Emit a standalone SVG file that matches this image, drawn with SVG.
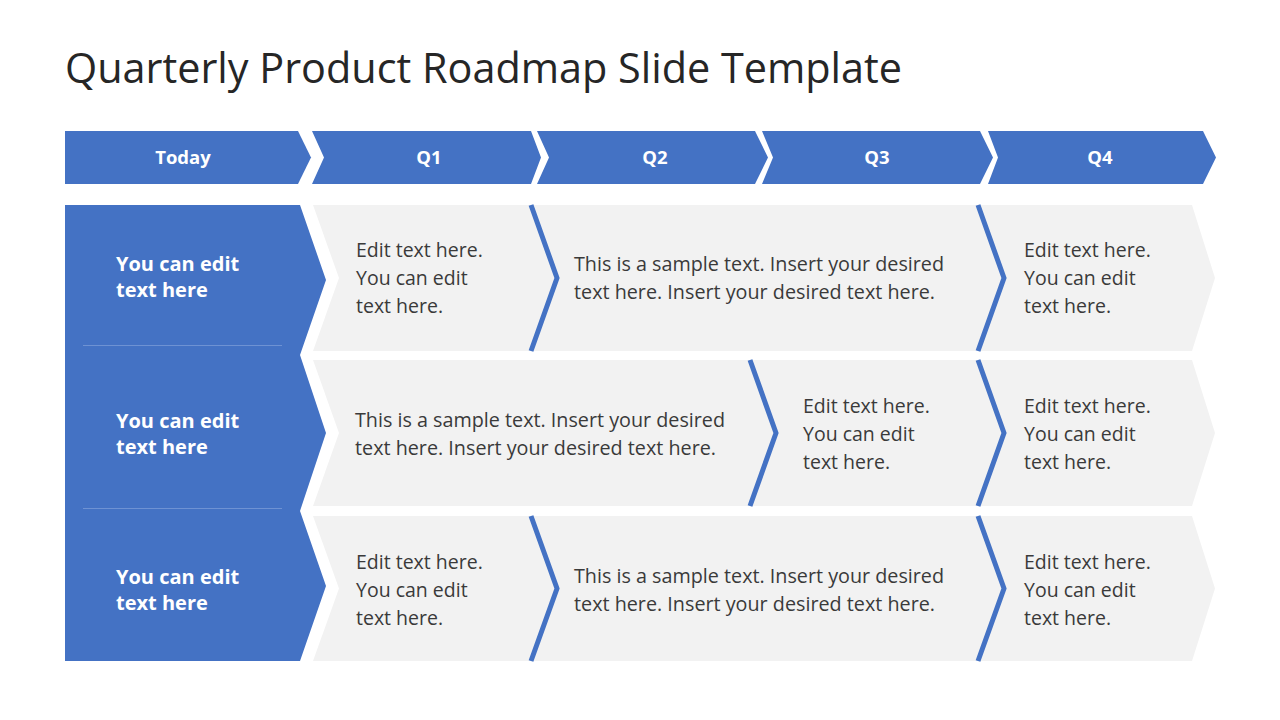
<svg xmlns="http://www.w3.org/2000/svg" width="1280" height="720" viewBox="0 0 1280 720">
<style>
  .blue{fill:#4472C4}
  .gray{fill:#F2F2F2}
  .div{fill:none;stroke:#4472C4;stroke-width:5;stroke-linejoin:miter}
  .sep{stroke:#6E92D3;stroke-width:1}
  .title{font-family:"Open Sans","Noto Sans","Liberation Sans",sans-serif;font-size:42px;fill:#262626}
  .hdr{font-family:"Open Sans","Noto Sans","Liberation Sans",sans-serif;font-size:18.5px;font-weight:bold;fill:#FFFFFF;text-anchor:middle}
  .rowh{font-family:"Open Sans","Noto Sans","Liberation Sans",sans-serif;font-size:20px;font-weight:bold;fill:#FFFFFF}
  .body{font-family:"Open Sans","Noto Sans","Liberation Sans",sans-serif;font-size:19.5px;fill:#3A3A3A}
</style>
<rect width="1280" height="720" fill="#FFFFFF"/>
<text class="title" x="65" y="83" textLength="837" lengthAdjust="spacingAndGlyphs">Quarterly Product Roadmap Slide Template</text>

<g id="header-today">
  <polygon class="blue" points="65,131 298,131 311,157.5 298,184 65,184"/>
  <text class="hdr" x="183" y="164">Today</text>
</g>
<g id="header-q1">
  <polygon class="blue" points="312,131 531,131 541,157.5 531,184 312,184 324,157.5"/>
  <text class="hdr" x="429" y="164">Q1</text>
</g>
<g id="header-q2">
  <polygon class="blue" points="537,131 755,131 768,157.5 755,184 537,184 549,157.5"/>
  <text class="hdr" x="655" y="164">Q2</text>
</g>
<g id="header-q3">
  <polygon class="blue" points="762,131 980,131 993,157.5 980,184 762,184 773,157.5"/>
  <text class="hdr" x="877" y="164">Q3</text>
</g>
<g id="header-q4">
  <polygon class="blue" points="988,131 1203,131 1216,157.5 1203,184 988,184 998,157.5"/>
  <text class="hdr" x="1100" y="164">Q4</text>
</g>

<g id="row-headers">
  <polygon class="blue" points="65,205 300,205 326,280 300,355 326,433 300,511 326,586 300,661 65,661"/>
  <line class="sep" x1="83" y1="345.5" x2="282" y2="345.5"/>
  <line class="sep" x1="83" y1="508.5" x2="282" y2="508.5"/>
</g>
<g id="row1-header">
  <text class="rowh" x="116" y="271">You can edit</text>
  <text class="rowh" x="116" y="297">text here</text>
</g>
<g id="row2-header">
  <text class="rowh" x="116" y="428">You can edit</text>
  <text class="rowh" x="116" y="454">text here</text>
</g>
<g id="row3-header">
  <text class="rowh" x="116" y="584">You can edit</text>
  <text class="rowh" x="116" y="610">text here</text>
</g>

<g id="row1">
  <polygon class="gray" points="313,205 1192,205 1215,278 1192,351 313,351 339,278"/>
  <text class="body" x="356" y="257">Edit text here.</text>
  <text class="body" x="356" y="285">You can edit</text>
  <text class="body" x="356" y="313">text here.</text>
  <text class="body" x="574" y="271" textLength="370" lengthAdjust="spacingAndGlyphs">This is a sample text. Insert your desired</text>
  <text class="body" x="574" y="299" textLength="361" lengthAdjust="spacingAndGlyphs">text here. Insert your desired text here.</text>
  <text class="body" x="1024" y="257">Edit text here.</text>
  <text class="body" x="1024" y="285">You can edit</text>
  <text class="body" x="1024" y="313">text here.</text>
</g>
<g id="row2">
  <polygon class="gray" points="313,360 1192,360 1215,433 1192,506 313,506 339,433"/>
  <text class="body" x="355" y="427" textLength="370" lengthAdjust="spacingAndGlyphs">This is a sample text. Insert your desired</text>
  <text class="body" x="355" y="455" textLength="361" lengthAdjust="spacingAndGlyphs">text here. Insert your desired text here.</text>
  <text class="body" x="803" y="413">Edit text here.</text>
  <text class="body" x="803" y="441">You can edit</text>
  <text class="body" x="803" y="469">text here.</text>
  <text class="body" x="1024" y="413">Edit text here.</text>
  <text class="body" x="1024" y="441">You can edit</text>
  <text class="body" x="1024" y="469">text here.</text>
</g>
<g id="row3">
  <polygon class="gray" points="313,516 1192,516 1215,588.5 1192,661 313,661 339,588.5"/>
  <text class="body" x="356" y="569">Edit text here.</text>
  <text class="body" x="356" y="597">You can edit</text>
  <text class="body" x="356" y="625">text here.</text>
  <text class="body" x="574" y="583" textLength="370" lengthAdjust="spacingAndGlyphs">This is a sample text. Insert your desired</text>
  <text class="body" x="574" y="611" textLength="361" lengthAdjust="spacingAndGlyphs">text here. Insert your desired text here.</text>
  <text class="body" x="1024" y="569">Edit text here.</text>
  <text class="body" x="1024" y="597">You can edit</text>
  <text class="body" x="1024" y="625">text here.</text>
</g>

<g id="connectors">
  <polyline class="div" points="531,205 557,278 531,351"/>
  <polyline class="div" points="978,205 1004,278 978,351"/>
  <polyline class="div" points="750,360 776,433 750,506"/>
  <polyline class="div" points="978,360 1004,433 978,506"/>
  <polyline class="div" points="531,516 557,588.5 531,661"/>
  <polyline class="div" points="978,516 1004,588.5 978,661"/>
</g>
</svg>
